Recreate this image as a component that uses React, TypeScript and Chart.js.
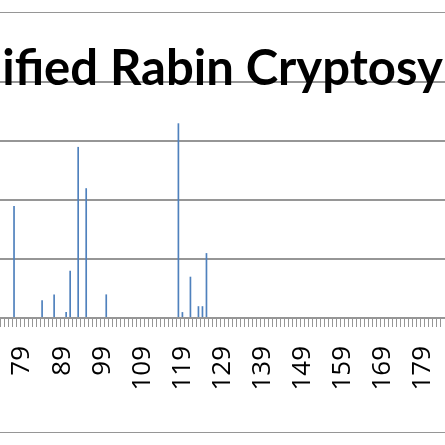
import { useEffect, useRef } from "react"
import { Chart, registerables } from "chart.js"

Chart.register(...registerables)

// Categorías visibles del eje X (el gráfico original está recortado)
const firstCategory = 74
const lastCategory = 184
const labelledCategories = [79, 89, 99, 109, 119, 129, 139, 149, 159, 169, 179]

// Barras con valor distinto de cero
const hitCategories = [77, 84, 87, 90, 91, 93, 95, 100, 118, 119, 121, 123, 124, 125]
const hitCounts = [19, 3, 4, 1, 8, 29, 22, 4, 33, 1, 7, 2, 2, 11]

const yTicks = [0, 10, 20, 30, 40]
const titleText = "ified Rabin Cryptosy"

const categories: number[] = []
for (let c = firstCategory; c <= lastCategory; c++) categories.push(c)

const counts = categories.map((c) => {
  const i = hitCategories.indexOf(c)
  return i >= 0 ? hitCounts[i] : null
})

const gridGray = "#969696"

// Título superpuesto al área de trazado, como en Excel
const overlayTitle = {
  id: "overlayTitle",
  afterDraw(chart: Chart) {
    const { ctx, width } = chart
    ctx.save()
    ctx.font = "bold 49px Lato"
    ctx.fillStyle = "#000"
    ctx.textAlign = "center"
    ctx.textBaseline = "alphabetic"
    ctx.fillText(titleText, width / 2, 85)
    ctx.restore()
  },
}

function HistogramChart() {
  const chartRef = useRef<HTMLCanvasElement>(null)
  const chartInstance = useRef<Chart | null>(null)

  useEffect(() => {
    if (!chartRef.current) return
    if (chartInstance.current) chartInstance.current.destroy()
    const ctx = chartRef.current.getContext("2d")
    if (!ctx) return

    chartInstance.current = new Chart(ctx, {
      type: "bar",
      data: {
        labels: categories.map(String),
        datasets: [
          {
            data: counts,
            backgroundColor: "#4F81BD",
            borderWidth: 0,
            barPercentage: 0.42,
            categoryPercentage: 1,
          },
        ],
      },
      options: {
        animation: false,
        responsive: false,
        devicePixelRatio: 1,
        layout: { padding: { top: 82, left: 0, right: 0, bottom: 0 } },
        plugins: {
          legend: { display: false },
          tooltip: { enabled: false },
          title: { display: false },
        },
        scales: {
          x: {
            afterFit: (scale: any) => {
              scale.height = 127
              scale.paddingLeft = 0
              scale.paddingRight = 0
            },
            grid: {
              drawOnChartArea: false,
              drawTicks: true,
              tickLength: 9,
              color: gridGray,
              lineWidth: 1,
            },
            border: { display: true, color: gridGray, width: 2 },
            ticks: {
              autoSkip: false,
              minRotation: 90,
              maxRotation: 90,
              padding: 19,
              color: "#000",
              font: { family: "Open Sans", size: 26 },
              callback: (_v: any, index: number) =>
                labelledCategories.includes(categories[index]) ? String(categories[index]) : "",
            },
          },
          y: {
            min: yTicks[0],
            max: yTicks[yTicks.length - 1],
            ticks: { display: false, stepSize: yTicks[1] - yTicks[0] },
            grid: { drawTicks: false, color: gridGray, lineWidth: 2 },
            border: { display: false },
          },
        },
      },
      plugins: [overlayTitle],
    })

    return () => {
      if (chartInstance.current) {
        chartInstance.current.destroy()
        chartInstance.current = null
      }
    }
  }, [])

  return <canvas ref={chartRef} width={445} height={445} style={{ display: "block" }} />
}

export default function App() {
  return (
    <div style={{ position: "fixed", left: 0, top: 0, width: 445, height: 445, background: "#fff", overflow: "hidden" }}>
      <HistogramChart />
      {/* bordes superior e inferior del marco del gráfico */}
      <div style={{ position: "absolute", left: 0, top: 12, width: 445, height: 0, borderTop: `1.5px solid ${gridGray}` }} />
      <div style={{ position: "absolute", left: 0, top: 432, width: 445, height: 0, borderTop: `1.5px solid ${gridGray}` }} />
    </div>
  )
}
